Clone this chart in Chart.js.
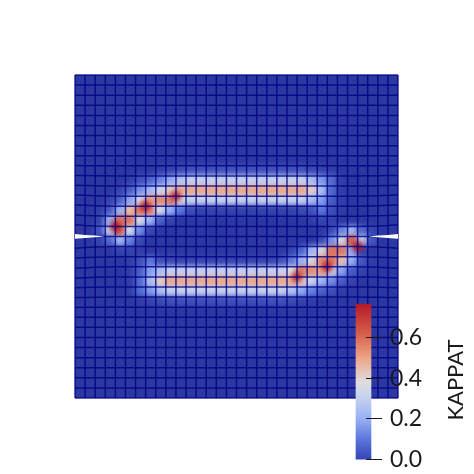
<!DOCTYPE html>
<html>
<head>
<meta charset="utf-8">
<title>KAPPAT</title>
<script src="https://cdn.jsdelivr.net/npm/chart.js@4"></script>
<style>
  html, body { margin: 0; padding: 0; background: #fff; }
  canvas { position: absolute; left: 0; top: 0; }
</style>
</head>
<body>
<canvas id="meshChart" width="474" height="474"></canvas>
<canvas id="barChart" width="474" height="474"></canvas>
<script>
// Element values, one row per mesh row, top to bottom
const kappaRows = [
  [0,0,0,0,0,0,0,0,0,0,0,0,0,0,0,0,0,0,0,0,0,0,0,0,0,0,0,0,0,0,0,0],
  [0,0,0,0,0,0,0,0,0,0,0,0,0,0,0,0,0,0,0,0,0,0,0,0,0,0,0,0,0,0,0,0],
  [0,0,0,0,0,0,0,0,0,0,0,0,0,0,0,0,0,0,0,0,0,0,0,0,0,0,0,0,0,0,0,0],
  [0,0,0,0,0,0,0,0,0,0,0,0,0,0,0,0,0,0,0,0,0,0,0,0,0,0,0,0,0,0,0,0],
  [0,0,0,0,0,0,0,0,0,0,0,0,0,0,0,0,0,0,0,0,0,0,0,0,0,0,0,0,0,0,0,0],
  [0,0,0,0,0,0,0,0,0,0,0,0,0,0,0,0,0,0,0,0,0,0,0,0,0,0,0,0,0,0,0,0],
  [0,0,0,0,0,0,0,0,0,0,0,0,0,0,0,0,0,0,0,0,0,0,0,0,0,0,0,0,0,0,0,0],
  [0,0,0,0,0,0,0,0,0,0,0,0,0,0,0,0,0,0,0,0,0,0,0,0,0,0,0,0,0,0,0,0],
  [0,0,0,0,0,0,0,0,0,0,0,0,0,0,0,0,0,0,0,0,0,0,0,0,0,0,0,0,0,0,0,0],
  [0,0,0,0,0,0,0,0,.01,.02,.03,.04,.04,.04,.04,.04,.04,.04,.04,.04,.04,.04,.04,.03,.02,.01,0,0,0,0,0,0],
  [0,0,0,0,0,.01,.04,.07,.12,.19,.26,.3,.3,.3,.3,.3,.3,.3,.3,.3,.3,.3,.3,.24,.16,.08,.01,0,0,0,0,0],
  [0,0,0,0,.02,.06,.14,.22,.32,.42,.48,.49,.49,.49,.49,.49,.49,.49,.49,.49,.49,.49,.49,.42,.24,.08,.01,0,0,0,0,0],
  [0,0,0,.02,.06,.18,.34,.5,.54,.56,.38,.3,.3,.3,.3,.3,.3,.3,.3,.3,.3,.3,.3,.24,.17,.06,.01,0,0,0,0,0],
  [0,0,.01,.05,.2,.45,.58,.54,.34,.2,.1,.04,.02,.02,.02,.02,.02,.02,.02,.02,.02,.02,.03,.04,.1,.04,.01,0,0,0,0,0],
  [0,0,.02,.2,.58,.58,.34,.22,.07,.02,0,0,0,0,0,0,0,0,0,0,0,0,0,.01,.02,.02,0,0,0,0,0,0],
  [0,0,.05,.3,.62,.34,.14,.03,0,0,0,0,0,0,0,0,0,0,0,0,0,0,0,0,0,.03,.12,.22,.08,.02,0,0],
  [0,0,.02,.08,.22,.12,.03,0,0,0,0,0,0,0,0,0,0,0,0,0,0,0,0,0,.03,.14,.34,.62,.3,.05,0,0],
  [0,0,0,0,.02,.02,.01,0,0,0,0,0,0,0,0,0,0,0,0,0,0,.02,.07,.22,.34,.58,.58,.2,.02,0,0,0],
  [0,0,0,0,0,.01,.04,.1,.04,.03,.02,.02,.02,.02,.02,.02,.02,.02,.02,.02,.04,.1,.2,.34,.54,.58,.45,.2,.05,.01,0,0],
  [0,0,0,0,0,.01,.06,.17,.24,.3,.3,.3,.3,.3,.3,.3,.3,.3,.3,.3,.3,.38,.56,.54,.5,.34,.18,.06,.02,0,0,0],
  [0,0,0,0,0,.01,.08,.24,.42,.49,.49,.49,.49,.49,.49,.49,.49,.49,.49,.49,.49,.48,.42,.32,.22,.14,.06,.02,0,0,0,0],
  [0,0,0,0,0,.01,.08,.16,.24,.3,.3,.3,.3,.3,.3,.3,.3,.3,.3,.3,.3,.26,.19,.12,.07,.04,.01,0,0,0,0,0],
  [0,0,0,0,0,0,.01,.02,.03,.04,.04,.04,.04,.04,.04,.04,.04,.04,.04,.04,.04,.03,.02,.01,0,0,0,0,0,0,0,0],
  [0,0,0,0,0,0,0,0,0,0,0,0,0,0,0,0,0,0,0,0,0,0,0,0,0,0,0,0,0,0,0,0],
  [0,0,0,0,0,0,0,0,0,0,0,0,0,0,0,0,0,0,0,0,0,0,0,0,0,0,0,0,0,0,0,0],
  [0,0,0,0,0,0,0,0,0,0,0,0,0,0,0,0,0,0,0,0,0,0,0,0,0,0,0,0,0,0,0,0],
  [0,0,0,0,0,0,0,0,0,0,0,0,0,0,0,0,0,0,0,0,0,0,0,0,0,0,0,0,0,0,0,0],
  [0,0,0,0,0,0,0,0,0,0,0,0,0,0,0,0,0,0,0,0,0,0,0,0,0,0,0,0,0,0,0,0],
  [0,0,0,0,0,0,0,0,0,0,0,0,0,0,0,0,0,0,0,0,0,0,0,0,0,0,0,0,0,0,0,0],
  [0,0,0,0,0,0,0,0,0,0,0,0,0,0,0,0,0,0,0,0,0,0,0,0,0,0,0,0,0,0,0,0],
  [0,0,0,0,0,0,0,0,0,0,0,0,0,0,0,0,0,0,0,0,0,0,0,0,0,0,0,0,0,0,0,0],
  [0,0,0,0,0,0,0,0,0,0,0,0,0,0,0,0,0,0,0,0,0,0,0,0,0,0,0,0,0,0,0,0]
];

// Hot mesh nodes along the two arcs
const hotCols = [4, 7, 10, 22, 25, 28];
const hotRows = [15, 13, 12, 20, 19, 17];
const hotValues = [0.765, 0.75, 0.73, 0.73, 0.75, 0.765];

// How far the first/last five nodes of a mesh line bend, in mesh rows
const bendRows = [9, 10, 11, 12, 13, 14, 15, 17, 18, 19, 20, 21, 22, 23];
const bendLeft = [
  [-.03,-.02,-.01,0,0], [-.05,-.04,-.02,-.01,0], [-.08,-.06,-.03,-.01,0], [-.1,-.08,-.04,-.02,0],
  [-.12,-.09,-.05,-.02,0], [-.14,-.08,-.05,-.02,0], [-.16,-.08,-.03,-.02,0],
  [.16,.08,.03,.02,0], [.14,.08,.05,.02,0], [.12,.09,.05,.02,0], [.1,.08,.04,.02,0],
  [.08,.06,.03,.01,0], [.05,.04,.02,.01,0], [.03,.02,.01,0,0]
];
const bendRight = [
  [0,0,-.01,-.02,-.03], [0,-.01,-.02,-.04,-.05], [0,-.01,-.03,-.06,-.08], [0,-.02,-.04,-.08,-.1],
  [0,-.02,-.05,-.09,-.12], [0,-.02,-.05,-.08,-.14], [0,-.02,-.03,-.08,-.16],
  [0,.02,.03,.08,.16], [0,.02,.05,.08,.14], [0,.02,.05,.09,.12], [0,.02,.04,.08,.1],
  [0,.01,.03,.06,.08], [0,.01,.02,.04,.05], [0,0,.01,.02,.03]
];

// White crack wedges at mid height
const crackLeftX = [0, 1, 2, 2.9];
const crackLeftTop = [15.76, 15.84, 15.9, 16];
const crackLeftBottom = [16.22, 16.14, 16.08, 16];
const crackRightX = [29.1, 30, 31, 32];
const crackRightTop = [16, 15.9, 15.84, 15.76];
const crackRightBottom = [16, 16.08, 16.14, 16.22];

// Colour bar
const barTop = 0.765;
const barTicks = [0, 0.2, 0.4, 0.6];
const barLabels = ["0.0", "0.2", "0.4", "0.6"];
const colorStops = [0, 0.1, 0.2, 0.3, 0.38, 0.5, 0.62, 0.765];
const colorValues = [
  [52, 66, 182], [92, 118, 220], [150, 176, 245], [195, 208, 240],
  [222, 222, 222], [236, 165, 135], [214, 95, 75], [180, 25, 40]
];
// The mesh renders its low end a little darker than the bar
const meshLowColor = [46, 57, 162];

const meshCols = 32;
const meshLines = 32;

function kappaColor(v, low) {
  let i = 0;
  while (i < colorStops.length - 2 && v > colorStops[i + 1]) i++;
  const t = Math.min(1, (v - colorStops[i]) / (colorStops[i + 1] - colorStops[i]));
  const a = i === 0 && low ? low : colorValues[i], b = colorValues[i + 1];
  const c = a.map((n, k) => Math.round(n + (b[k] - n) * t));
  return `rgb(${c[0]}, ${c[1]}, ${c[2]})`;
}

// Cells as points at the centre of each element
const cellPoints = [];
const cellColors = [];
kappaRows.forEach((row, j) => {
  row.forEach((v, i) => {
    cellPoints.push({ x: i + 0.5, y: j + 0.5 });
    cellColors.push(kappaColor(v, meshLowColor));
  });
});

function lineDataset(data) {
  return {
    data: data,
    showLine: true,
    pointRadius: 0,
    borderColor: "rgba(0, 0, 130, 0.8)",
    borderWidth: 1.5,
    softBlur: 0.5,
    clip: false,
    order: 1
  };
}

const datasets = [];

// Horizontal mesh lines, bent near the two sides
for (let j = 0; j <= meshLines; j++) {
  const b = bendRows.indexOf(j);
  const pts = [];
  for (let i = 0; i <= meshCols; i++) {
    let shift = 0;
    if (b >= 0 && i < 5) shift = bendLeft[b][i];
    if (b >= 0 && i > meshCols - 5) shift = bendRight[b][i - (meshCols - 4)];
    pts.push({ x: i, y: j + shift });
  }
  datasets.push(lineDataset(pts));
}
// Vertical mesh lines
for (let i = 0; i <= meshCols; i++) {
  datasets.push(lineDataset([{ x: i, y: 0 }, { x: i, y: meshLines }]));
}

// Crack wedges, filled between an upper and a lower edge
function crackDatasets(xs, top, bottom) {
  const edge = ys => xs.map((x, k) => ({ x: x, y: ys[k] }));
  return [
    { data: edge(top), showLine: true, pointRadius: 0, borderWidth: 0, borderColor: "#fff",
      backgroundColor: "#fff", fill: "+1", order: 0 },
    { data: edge(bottom), showLine: true, pointRadius: 0, borderWidth: 0, borderColor: "#fff", order: 0 }
  ];
}
datasets.push(...crackDatasets(crackLeftX, crackLeftTop, crackLeftBottom));
datasets.push(...crackDatasets(crackRightX, crackRightTop, crackRightBottom));

// Hot nodes
datasets.push({
  data: hotCols.map((c, k) => ({ x: c, y: hotRows[k] })),
  pointRadius: 5.5,
  pointBorderWidth: 0,
  pointBackgroundColor: hotValues.map(v => kappaColor(v)),
  softBlur: 2.5,
  order: 2
});
// Soft cell layer over a sharp one, so the field looks smooth
datasets.push({
  data: cellPoints,
  pointStyle: "rect",
  pointRadius: 8.6,
  pointBorderWidth: 0,
  pointBackgroundColor: cellColors,
  softBlur: 2.6,
  clip: 0,
  order: 3
});
datasets.push({
  data: cellPoints,
  pointStyle: "rect",
  pointRadius: 7.4,
  pointBorderWidth: 0,
  pointBackgroundColor: cellColors,
  clip: 0,
  order: 4
});

const softBlurPlugin = {
  id: "softBlur",
  beforeDatasetDraw(chart, args) {
    const blur = chart.data.datasets[args.index].softBlur;
    chart.ctx.save();
    if (blur) chart.ctx.filter = `blur(${blur}px)`;
  },
  afterDatasetDraw(chart) {
    chart.ctx.restore();
  }
};

new Chart(document.getElementById("meshChart").getContext("2d"), {
  type: "scatter",
  data: { datasets: datasets },
  plugins: [softBlurPlugin],
  options: {
    responsive: false,
    animation: false,
    layout: { padding: { left: 75, top: 75, right: 76, bottom: 76 } },
    scales: {
      x: { display: false, min: 0, max: meshCols },
      y: { display: false, min: 0, max: meshLines, reverse: true }
    },
    plugins: { legend: { display: false }, tooltip: { enabled: false } }
  }
});

// Rotated bar title, reads bottom to top
const barTitlePlugin = {
  id: "barTitle",
  afterDraw(chart) {
    const ctx = chart.ctx;
    ctx.save();
    ctx.translate(456, 380);
    ctx.rotate(-Math.PI / 2);
    ctx.font = "22px Lato";
    ctx.fillStyle = "#1a1a1a";
    ctx.textAlign = "center";
    ctx.textBaseline = "middle";
    ctx.fillText("KAPPAT", 0, 0);
    ctx.restore();
  }
};

new Chart(document.getElementById("barChart").getContext("2d"), {
  type: "bar",
  data: {
    labels: ["KAPPAT"],
    datasets: [{
      data: [[0, barTop]],
      barThickness: 15,
      clip: false,
      backgroundColor(context) {
        const area = context.chart.chartArea;
        if (!area) return "#3b4cc0";
        const y = context.chart.scales.y;
        const g = context.chart.ctx.createLinearGradient(0, y.getPixelForValue(0), 0, y.getPixelForValue(barTop));
        colorStops.forEach((s, k) => {
          const c = colorValues[k];
          g.addColorStop(s / barTop, `rgb(${c[0]}, ${c[1]}, ${c[2]})`);
        });
        return g;
      }
    }]
  },
  plugins: [barTitlePlugin],
  options: {
    responsive: false,
    animation: false,
    layout: { padding: { left: 361, top: 304, right: 0, bottom: 14.3 } },
    scales: {
      x: { display: false },
      y: {
        position: "right",
        min: 0,
        max: barTop,
        afterBuildTicks(scale) {
          scale.ticks = barTicks.map(v => ({ value: v }));
        },
        afterFit(scale) {
          scale.width = 108;
          scale.paddingTop = 0;
          scale.paddingBottom = 0;
        },
        border: { display: false },
        grid: { drawOnChartArea: false, tickLength: 16, tickColor: "#1a1a1a", tickWidth: 1, z: 1 },
        ticks: {
          z: 1,
          padding: 8,
          color: "#1a1a1a",
          font: { family: "Lato", size: 23 },
          callback(value) {
            return barLabels[barTicks.indexOf(value)];
          }
        }
      }
    },
    plugins: { legend: { display: false }, tooltip: { enabled: false } }
  }
});
</script>
</body>
</html>
